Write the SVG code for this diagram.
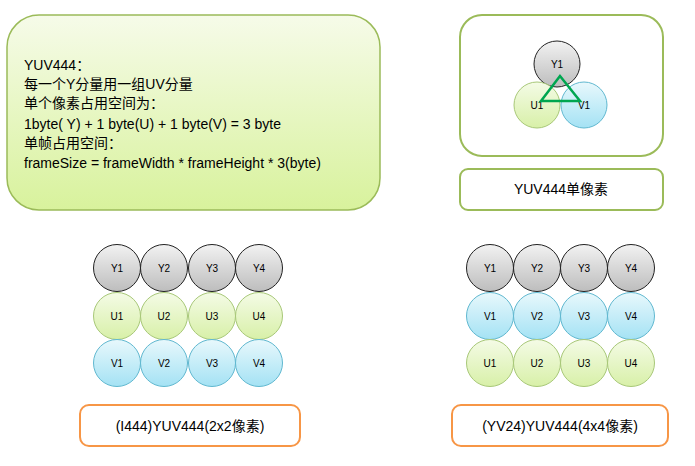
<svg xmlns="http://www.w3.org/2000/svg" width="695" height="466" viewBox="0 0 695 466">
<style>
text{font-family:"Liberation Sans","Noto Sans CJK SC",sans-serif;fill:#000}
.c{font-size:10px;text-anchor:middle}
.y{fill:url(#gy);stroke:#222;stroke-width:1}
.u{fill:url(#gu);stroke:#a8c878;stroke-width:1}
.v{fill:url(#gv);stroke:#60b8d0;stroke-width:1}
.gb{fill:#fff;stroke:#9bbb59;stroke-width:2}
.ob{fill:#fff;stroke:#f79646;stroke-width:2}
.lb{font-size:14px;text-anchor:middle}
</style>
<defs>
<linearGradient id="gy" x1="0" y1="0" x2="0" y2="1"><stop offset="0" stop-color="#f2f2f2"/><stop offset="1" stop-color="#bdbdbd"/></linearGradient>
<linearGradient id="gu" x1="0" y1="0" x2="0" y2="1"><stop offset="0" stop-color="#f4fbe6"/><stop offset="1" stop-color="#d8f0a8"/></linearGradient>
<linearGradient id="gv" x1="0" y1="0" x2="0" y2="1"><stop offset="0" stop-color="#e8f8fc"/><stop offset="1" stop-color="#a4e2f4"/></linearGradient>
<linearGradient id="gb" x1="0" y1="0" x2="0" y2="1"><stop offset="0" stop-color="#f6fbe9"/><stop offset="1" stop-color="#d8f29c"/></linearGradient>
</defs>
<g id="info">
<rect x="7" y="15" width="373" height="195" rx="32" fill="url(#gb)" stroke="#9bbb59" stroke-width="1.5"/>
<text font-size="14"><tspan x="24" y="70">YUV444：</tspan><tspan x="24" y="89">每一个Y分量用一组UV分量</tspan><tspan x="24" y="108">单个像素占用空间为：</tspan><tspan x="24" y="129">1byte( Y) + 1 byte(U) + 1 byte(V) = 3 byte</tspan><tspan x="24" y="148">单帧占用空间：</tspan><tspan x="24" y="168">frameSize = frameWidth * frameHeight * 3(byte)</tspan></text>
</g>
<g id="pixel">
<rect class="gb" x="460" y="15" width="203" height="141" rx="22"/>
<circle class="y" cx="557" cy="64" r="23"/><text class="c" x="557" y="68">Y1</text>
<circle class="u" cx="537" cy="105" r="23"/><text class="c" x="537" y="109">U1</text>
<circle class="v" cx="584" cy="105" r="23"/><text class="c" x="584" y="109">V1</text>
<polygon points="560,76 541,101 580,101" fill="none" stroke="#00a650" stroke-width="2.5"/>
</g>
<g id="pixel-label"><rect class="gb" x="460" y="169" width="203" height="41" rx="8"/><text class="lb" x="561" y="194">YUV444单像素</text></g>
<g id="grid1">
<circle class="y" cx="117" cy="268" r="23.5"/><text class="c" x="117" y="272">Y1</text>
<circle class="y" cx="164" cy="268" r="23.5"/><text class="c" x="164" y="272">Y2</text>
<circle class="y" cx="212" cy="268" r="23.5"/><text class="c" x="212" y="272">Y3</text>
<circle class="y" cx="259" cy="268" r="23.5"/><text class="c" x="259" y="272">Y4</text>
<circle class="u" cx="117" cy="316" r="23.5"/><text class="c" x="117" y="320">U1</text>
<circle class="u" cx="164" cy="316" r="23.5"/><text class="c" x="164" y="320">U2</text>
<circle class="u" cx="212" cy="316" r="23.5"/><text class="c" x="212" y="320">U3</text>
<circle class="u" cx="259" cy="316" r="23.5"/><text class="c" x="259" y="320">U4</text>
<circle class="v" cx="117" cy="363" r="23.5"/><text class="c" x="117" y="367">V1</text>
<circle class="v" cx="164" cy="363" r="23.5"/><text class="c" x="164" y="367">V2</text>
<circle class="v" cx="212" cy="363" r="23.5"/><text class="c" x="212" y="367">V3</text>
<circle class="v" cx="259" cy="363" r="23.5"/><text class="c" x="259" y="367">V4</text>
</g>
<g id="grid2">
<circle class="y" cx="490" cy="268" r="23.5"/><text class="c" x="490" y="272">Y1</text>
<circle class="y" cx="537" cy="268" r="23.5"/><text class="c" x="537" y="272">Y2</text>
<circle class="y" cx="584" cy="268" r="23.5"/><text class="c" x="584" y="272">Y3</text>
<circle class="y" cx="631" cy="268" r="23.5"/><text class="c" x="631" y="272">Y4</text>
<circle class="v" cx="490" cy="316" r="23.5"/><text class="c" x="490" y="320">V1</text>
<circle class="v" cx="537" cy="316" r="23.5"/><text class="c" x="537" y="320">V2</text>
<circle class="v" cx="584" cy="316" r="23.5"/><text class="c" x="584" y="320">V3</text>
<circle class="v" cx="631" cy="316" r="23.5"/><text class="c" x="631" y="320">V4</text>
<circle class="u" cx="490" cy="363" r="23.5"/><text class="c" x="490" y="367">U1</text>
<circle class="u" cx="537" cy="363" r="23.5"/><text class="c" x="537" y="367">U2</text>
<circle class="u" cx="584" cy="363" r="23.5"/><text class="c" x="584" y="367">U3</text>
<circle class="u" cx="631" cy="363" r="23.5"/><text class="c" x="631" y="367">U4</text>
</g>
<g id="label1"><rect class="ob" x="80" y="405" width="220" height="41" rx="9"/><text class="lb" x="190" y="431">(I444)YUV444(2x2像素)</text></g>
<g id="label2"><rect class="ob" x="452" y="405" width="216" height="41" rx="9"/><text class="lb" x="560" y="431">(YV24)YUV444(4x4像素)</text></g>
<g id="connectors"/>
</svg>
